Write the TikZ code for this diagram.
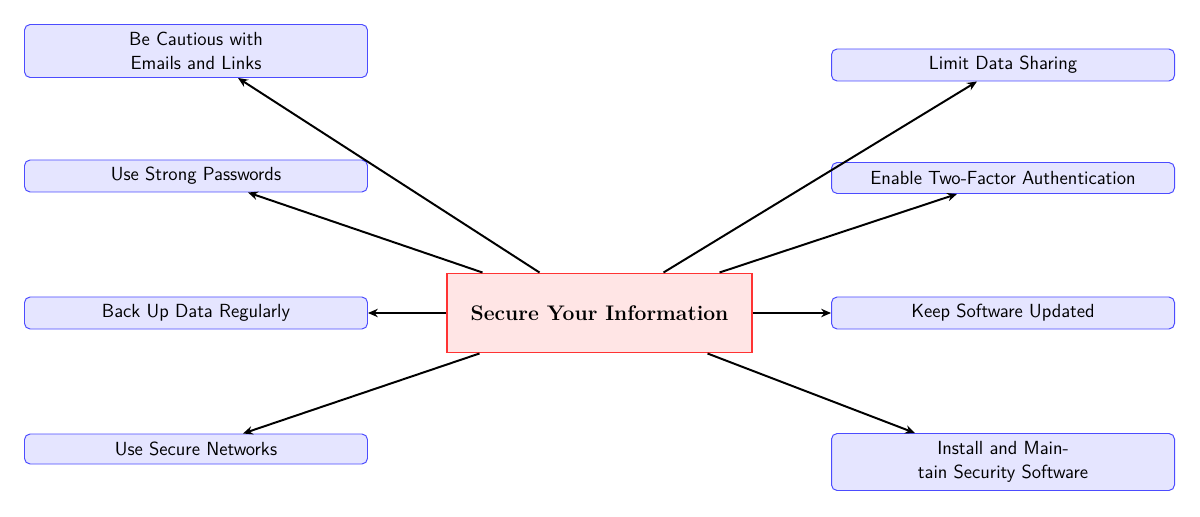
\documentclass[tikz,border=0pt]{standalone}
\usetikzlibrary{arrows.meta}
\begin{document}
\begin{tikzpicture}[x=1cm,y=1cm,
  sat/.style={draw=blue!70,line width=0.7pt,fill=blue!10,rounded corners=4pt,minimum width=8.575cm,minimum height=0.8cm,inner sep=2pt,align=center,font=\sffamily\fontsize{13.5}{17}\selectfont},
  hub/.style={draw=red!80,line width=1.4pt,fill=red!10,minimum width=7.625cm,minimum height=1.975cm,font=\bfseries\fontsize{15}{17}\selectfont},
  arr/.style={-{Stealth[length=7pt,width=6pt]},line width=1.4pt}]
\useasboundingbox (0,0) rectangle (30,12.9);
\node[hub] (c) at (14.9875,5.075) {Secure Your Information};
\node[sat,minimum height=1.325cm] (a1) at (4.9,11.625) {Be Cautious with\\Emails and Links};
\node[sat] (a2) at (4.9,8.5) {Use Strong Passwords};
\node[sat] (a3) at (4.9,5.075) {Back Up Data Regularly};
\node[sat,minimum height=0.75cm] (a4) at (4.9,1.675) {Use Secure Networks};
\node[sat] (b1) at (25.075,11.275) {Limit Data Sharing};
\node[sat,minimum height=0.775cm] (b2) at (25.075,8.45) {Enable Two-Factor Authentication};
\node[sat] (b3) at (25.075,5.075) {Keep Software Updated};
\node[sat,minimum height=1.425cm] (b4) at (25.075,1.35) {Install and Main-\\tain Security Software};
\draw[arr] ([xshift=-1.5cm]c.north) -- ([xshift=1.05cm]a1.south);
\draw[arr] ([xshift=-2.925cm]c.north) -- ([xshift=1.3cm]a2.south);
\draw[arr] (c.west) -- (a3.east);
\draw[arr] ([xshift=-3cm]c.south) -- ([xshift=1.175cm]a4.north);
\draw[arr] ([xshift=1.6cm]c.north) -- ([xshift=-4.95cm]b1.south east);
\draw[arr] ([xshift=3cm]c.north) -- ([xshift=-5.45cm]b2.south east);
\draw[arr] (c.east) -- (b3.west);
\draw[arr] ([xshift=2.7cm]c.south) -- ([xshift=-2.2cm]b4.north);
\end{tikzpicture}
\end{document}
